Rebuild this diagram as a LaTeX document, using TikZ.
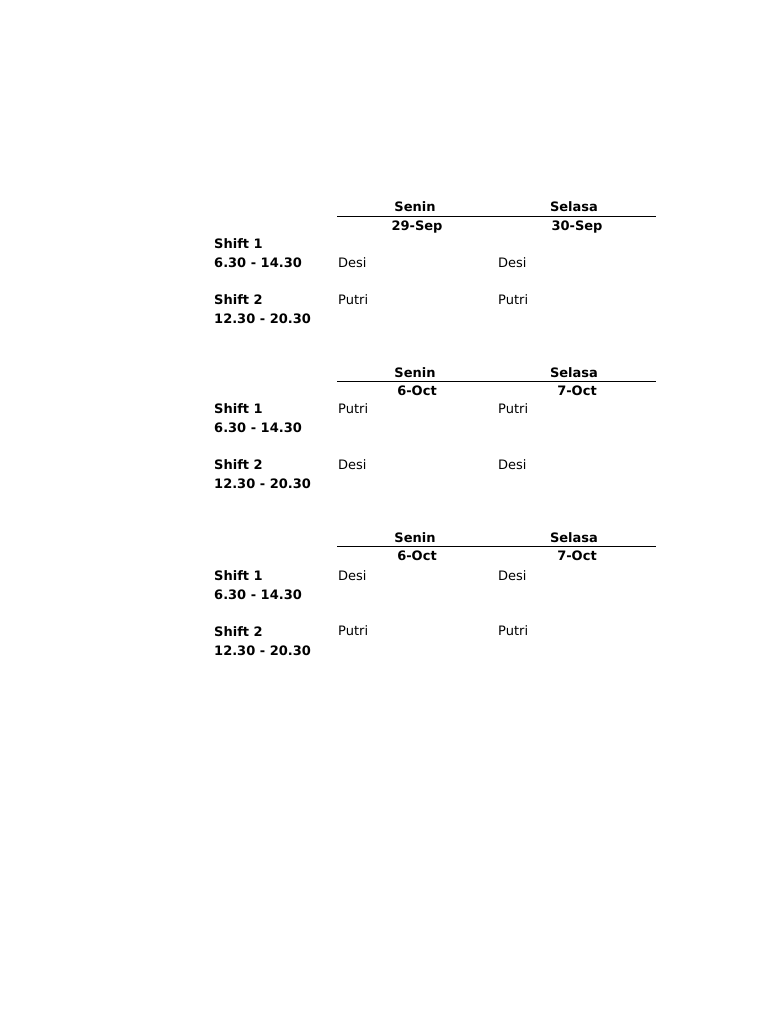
\documentclass[tikz,border=0pt]{standalone}
\usepackage{fontspec}
\setmainfont{DejaVu Sans}
\tikzset{
  head/.style={font=\fontsize{13}{15}\selectfont\bfseries, inner sep=0pt, anchor=base},
  lbl/.style={font=\fontsize{13}{15}\selectfont\bfseries, inner sep=0pt, anchor=base west},
  cell/.style={font=\fontsize{13}{15}\selectfont, inner sep=0pt, anchor=base west}
}
\begin{document}
\begin{tikzpicture}[x=1pt, y=-1pt]
\useasboundingbox (0,0) rectangle (768,1024);
\foreach \b/\dy/\da/\db/\ta/\tb/\nf/\ns in {1/0/29-Sep/30-Sep/0/0/Desi/Putri, 2/165/6-Oct/7-Oct/146/146/Putri/Desi, 3/330/6-Oct/7-Oct/312/312/Desi/Putri}
{
    \node[head] (senin\b) at (415,212+\dy) {Senin};
    \node[head] (selasa\b) at (574,212+\dy) {Selasa};
    \coordinate (ls\b) at (337,216+\dy);
    \coordinate (le\b) at (656,216+\dy);
    \draw[line width=0.8pt] (ls\b) -- (le\b);
    \node[head] (da\b) at (417,230+\dy) {\da};
    \node[head] (db\b) at (577,230+\dy) {\db};
}
% shift labels and names
\foreach \b/\y/\nf/\ns in {1/248/Desi/Putri, 2/413/Putri/Desi, 3/580/Desi/Putri}
{
    \node[lbl] (sa\b) at (214,\y) {Shift 1};
    \node[lbl] (ta\b) at (214,\y+19) {6.30 - 14.30};
    \node[lbl] (sb\b) at (214,\y+56) {Shift 2};
    \node[lbl] (tb\b) at (214,\y+75) {12.30 - 20.30};
}
\node[cell] (p11) at (338,267) {Desi};
\node[cell] (p12) at (498,267) {Desi};
\node[cell] (p13) at (338,304) {Putri};
\node[cell] (p14) at (498,304) {Putri};
\node[cell] (p21) at (338,413) {Putri};
\node[cell] (p22) at (498,413) {Putri};
\node[cell] (p23) at (338,469) {Desi};
\node[cell] (p24) at (498,469) {Desi};
\node[cell] (p31) at (338,580) {Desi};
\node[cell] (p32) at (498,580) {Desi};
\node[cell] (p33) at (338,635) {Putri};
\node[cell] (p34) at (498,635) {Putri};
\end{tikzpicture}
\end{document}
